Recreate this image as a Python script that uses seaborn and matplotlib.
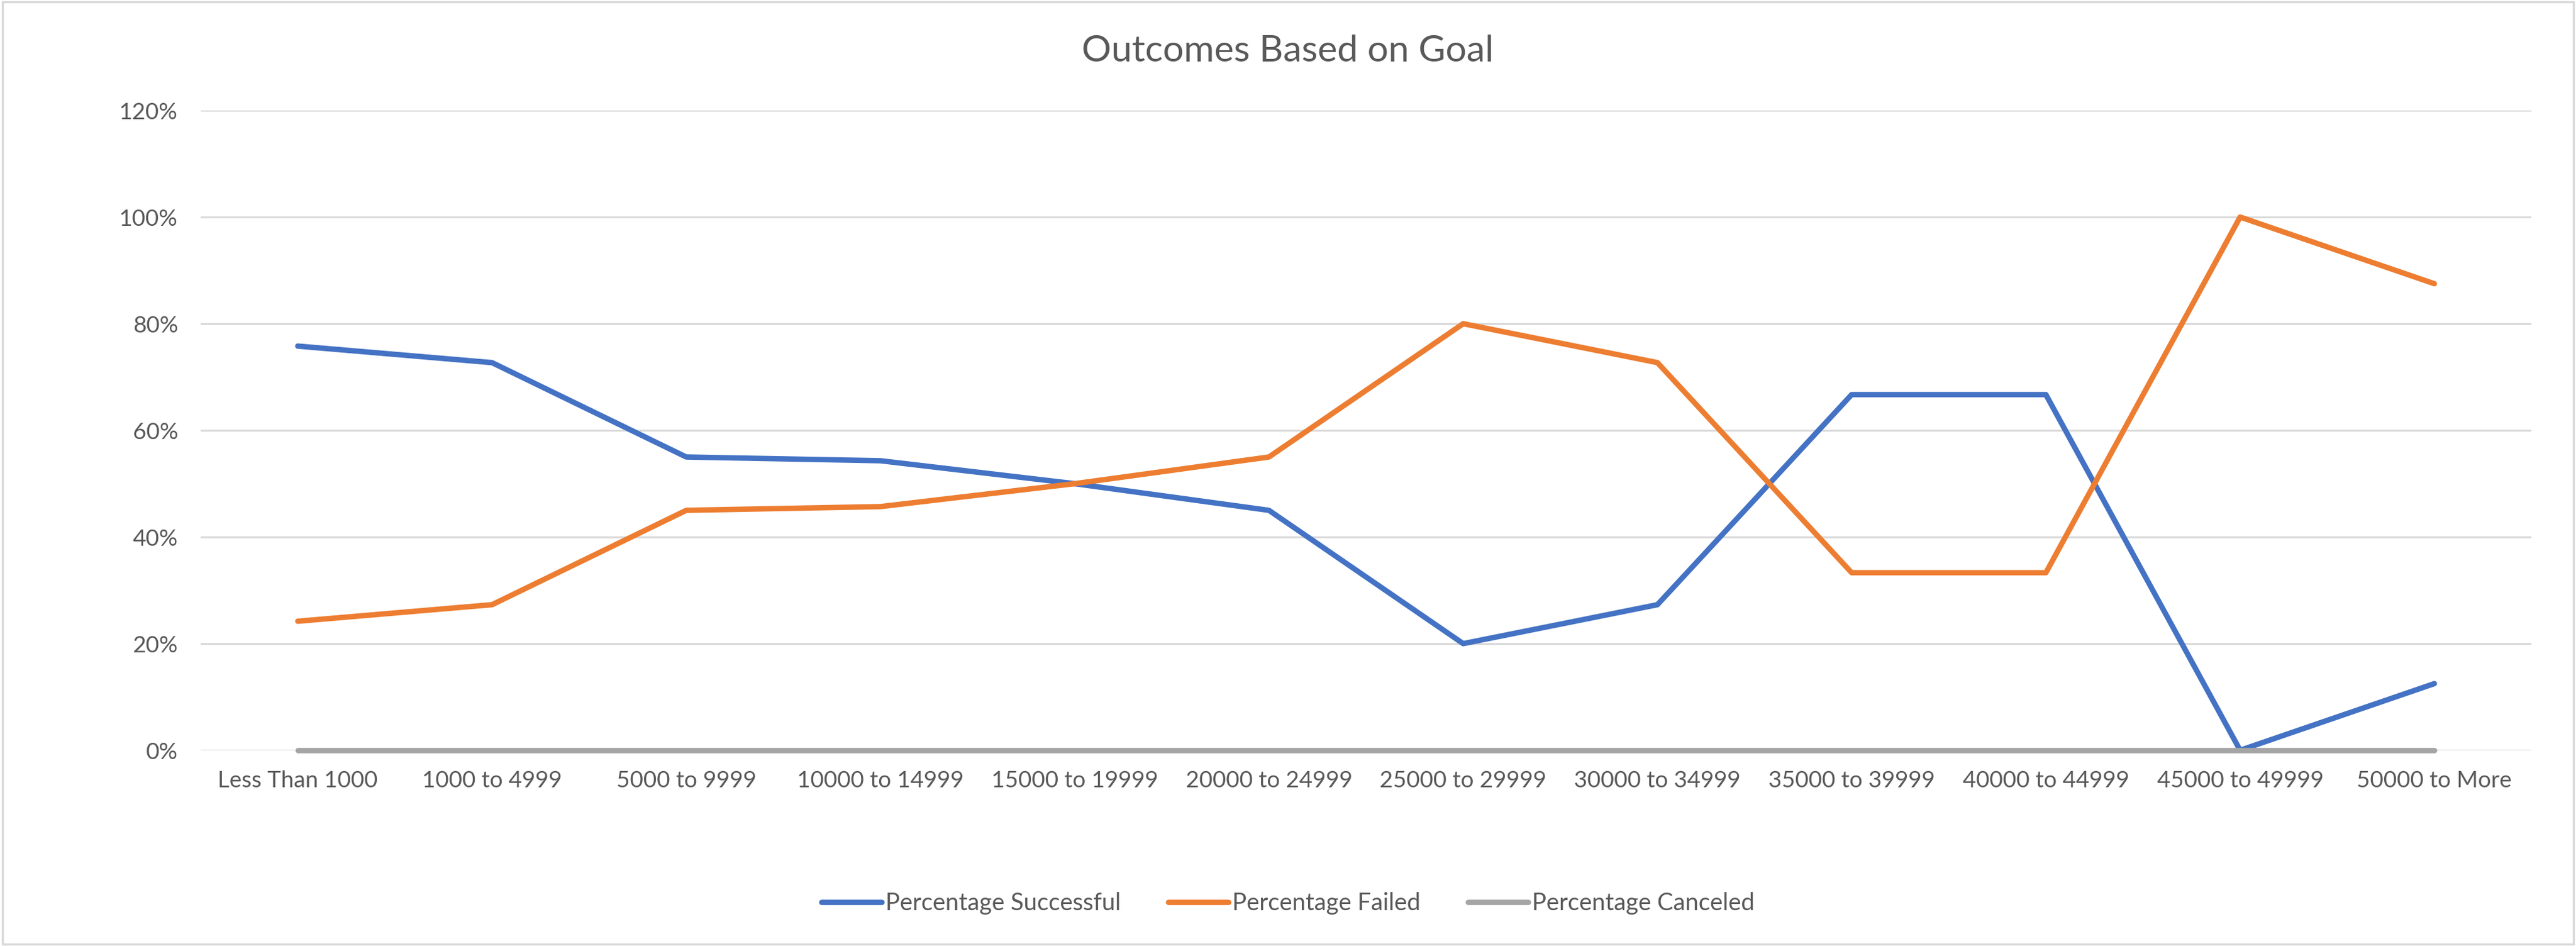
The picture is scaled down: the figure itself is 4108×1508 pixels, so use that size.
import matplotlib
matplotlib.use('Agg')
import matplotlib.pyplot as plt
import matplotlib.ticker as mticker
import pandas as pd
import seaborn as sns

# Datos del gráfico
categorias = ['Less Than 1000', '1000 to 4999', '5000 to 9999', '10000 to 14999',
              '15000 to 19999', '20000 to 24999', '25000 to 29999', '30000 to 34999',
              '35000 to 39999', '40000 to 44999', '45000 to 49999', '50000 to More']
pct_exito = [0.758, 0.727, 0.55, 0.543, 0.50, 0.45, 0.20, 0.273, 0.667, 0.667, 0.0, 0.125]
pct_fallo = [0.242, 0.273, 0.45, 0.457, 0.50, 0.55, 0.80, 0.727, 0.333, 0.333, 1.0, 0.875]
pct_cancel = [0.0] * 12
series = ['Percentage Successful', 'Percentage Failed', 'Percentage Canceled']
colores = ['#4472C4', '#ED7D31', '#A5A5A5']

df = pd.DataFrame({
    'goal': categorias * 3,
    'valor': pct_exito + pct_fallo + pct_cancel,
    'serie': [s for s in series for _ in categorias],
})

sns.set_style('white')
plt.rcParams['font.family'] = ['Lato', 'DejaVu Sans']
gris_texto = '#595959'

fig = plt.figure(figsize=(41.08, 15.08), dpi=100)
ax = fig.add_axes([320 / 4108, 312 / 1508, 3717 / 4108, 1020 / 1508])

sns.lineplot(data=df, x='goal', y='valor', hue='serie', hue_order=series,
             palette=colores, linewidth=6.2, ax=ax, sort=False,
             solid_capstyle='round', solid_joinstyle='round')
# Que la línea en 0% no quede recortada por el borde del eje
for linea in ax.lines:
    linea.set_clip_on(False)

ax.set_xlim(-0.5, len(categorias) - 0.5)
ax.set_ylim(0, 1.2)
ax.set_yticks([0, 0.2, 0.4, 0.6, 0.8, 1.0, 1.2])
ax.yaxis.set_major_formatter(mticker.PercentFormatter(1.0, decimals=0))
ax.yaxis.grid(True, color='#D9D9D9', linewidth=2.2)
ax.set_axisbelow(True)
for sp in ax.spines.values():
    sp.set_visible(False)
ax.tick_params(axis='both', length=0, labelsize=26.5, labelcolor=gris_texto)
ax.tick_params(axis='x', pad=23)
ax.tick_params(axis='y', pad=26)
ax.set_xlabel('')
ax.set_ylabel('')

fig.text(0.5, 1 - 81 / 1508, 'Outcomes Based on Goal', ha='center', va='center',
         fontsize=42.5, color=gris_texto)

ax.legend(loc='center', bbox_to_anchor=(0.5, 1 - 1440 / 1508), bbox_transform=fig.transFigure,
          ncol=3, frameon=False, fontsize=27.5, labelcolor=gris_texto,
          handlelength=2.5, handletextpad=0.15, columnspacing=2.0)
for linea in ax.get_legend().get_lines():
    linea.set_linewidth(6.2)
    linea.set_solid_capstyle('round')

# Borde exterior estilo Excel
fig.patches.append(plt.Rectangle((0.001, 0.002), 0.998, 0.996, transform=fig.transFigure,
                                 fill=False, edgecolor='#D9D9D9', linewidth=2.5))

fig.savefig('out.png', dpi=100, facecolor='white')
